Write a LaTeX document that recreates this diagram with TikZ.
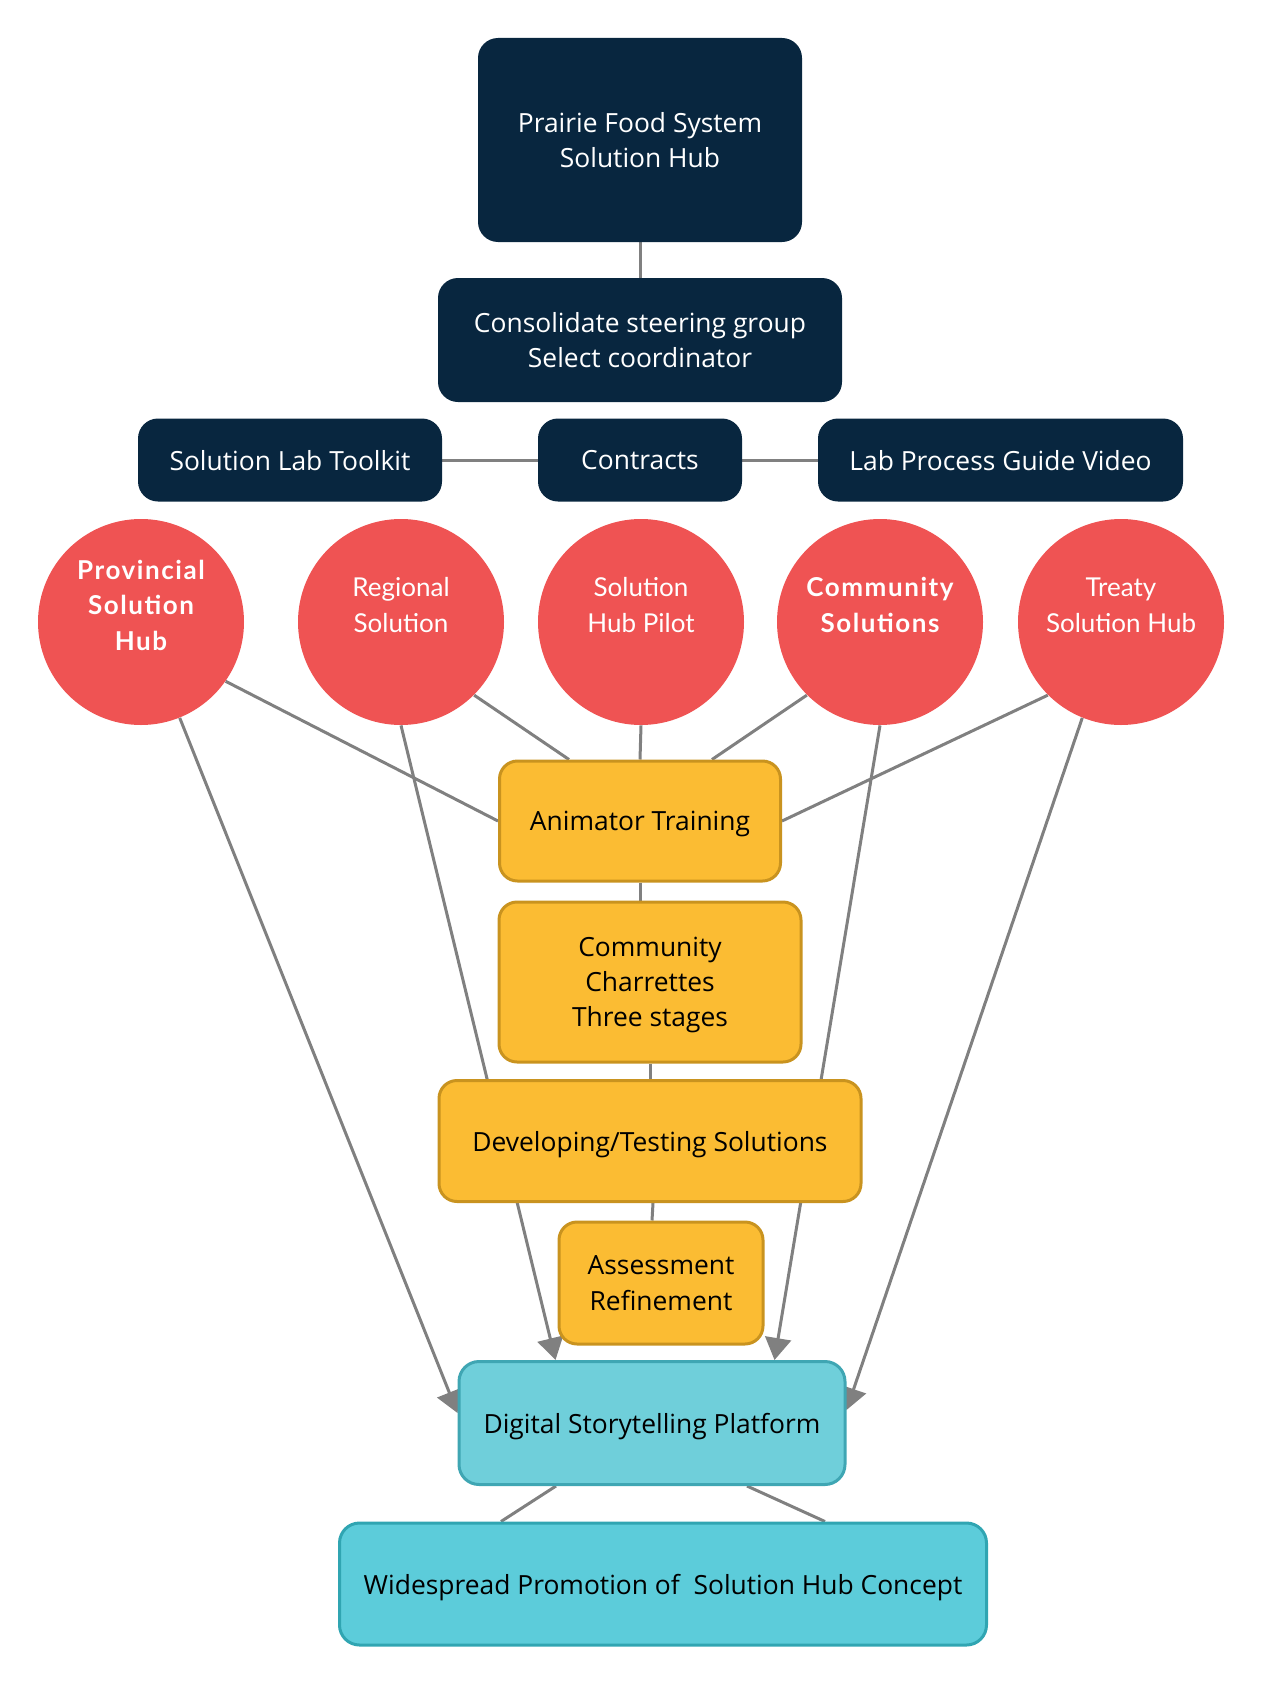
\documentclass[tikz,border=0pt]{standalone}
\usepackage{fontspec}
\setmainfont{Open Sans}
\newfontfamily\latofont{Lato}
\newcommand{\hubbold}{\bfseries\addfontfeatures{LetterSpace=6}}
\usetikzlibrary{arrows.meta,calc,backgrounds}
\definecolor{navy}{HTML}{08263F}
\definecolor{redc}{HTML}{EF5353}
\definecolor{amber}{HTML}{FBBC33}
\definecolor{amberline}{HTML}{C9931F}
\definecolor{tealA}{HTML}{6FCFDA}
\definecolor{tealAline}{HTML}{3FA6B3}
\definecolor{tealB}{HTML}{5CCCDA}
\definecolor{tealBline}{HTML}{30A5B2}
\definecolor{linegray}{HTML}{808080}
\begin{document}
\begin{tikzpicture}[x=0.5pt,y=-0.5pt,
  navybox/.style={fill=navy, text=white, rounded corners=10pt, align=center,
    inner sep=0pt, text depth=-4pt, font=\fontsize{13.2}{17.6}\selectfont},
  hubcirc/.style={circle, fill=redc, text=white, minimum size=103pt, inner sep=0pt,
    align=center, text depth=17pt, font=\latofont\fontsize{13}{17.8}\selectfont},
  ambbox/.style={fill=amber, draw=amberline, line width=1.5pt, rounded corners=9pt,
    align=center, inner sep=0pt, text depth=-4pt, font=\fontsize{13.2}{17.6}\selectfont},
  tealbox/.style={draw, line width=1.5pt, rounded corners=10pt, align=center,
    inner sep=0pt, text depth=-4pt, font=\fontsize{13.2}{17.6}\selectfont},
  link/.style={draw=linegray, line width=1.5pt},
  feed/.style={link, -{Triangle[length=11pt,width=13pt]}}]
\useasboundingbox (0,0) rectangle (1262,1686);
% Steering boxes
\node[navybox, minimum width=162pt, minimum height=102pt] (hub) at (640,140) {Prairie Food System\\Solution Hub};
\node[navybox, minimum width=202pt, minimum height=62pt] (steer) at (640,340) {Consolidate steering group\\Select coordinator};
\node[navybox, minimum width=152pt, minimum height=41.5pt] (toolkit) at (290,460) {Solution Lab Toolkit};
\node[navybox, minimum width=102pt, minimum height=41.5pt] (contracts) at (640,460) {Contracts};
\node[navybox, minimum width=182.5pt, minimum height=41.5pt] (video) at (1000.5,460) {Lab Process Guide Video};
% Solution hubs
\node[hubcirc] (prov) at (141,622) {\hubbold Provincial\\\hubbold Solution\\\hubbold Hub};
\node[hubcirc] (reg) at (401,622) {Regional\\Solution};
\node[hubcirc] (pilot) at (641,622) {Solution\\Hub Pilot};
\node[hubcirc] (comm) at (880,622) {\hubbold Community\\\hubbold Solutions};
\node[hubcirc] (treaty) at (1121,622) {Treaty\\Solution Hub};
% Process steps
\node[ambbox, minimum width=140.5pt, minimum height=60pt] (anim) at (640,821) {Animator Training};
\node[ambbox, minimum width=151pt, minimum height=80pt] (charr) at (650,982) {Community\\Charrettes\\Three stages};
\node[ambbox, minimum width=211pt, minimum height=60.5pt] (devel) at (650,1141) {Developing/Testing Solutions};
\node[ambbox, minimum width=102pt, minimum height=61pt] (assess) at (661,1283) {Assessment\\Refinement};
% Outputs
\node[tealbox, fill=tealA, draw=tealAline, minimum width=193pt, minimum height=61.5pt] (digital) at (652,1423) {Digital Storytelling Platform};
\node[tealbox, fill=tealB, draw=tealBline, minimum width=323.5pt, minimum height=61pt] (promo) at (663,1584) {Widespread Promotion of \ Solution Hub Concept};
% Connectors
\begin{scope}[on background layer]
\draw[link] (hub.south) -- (steer.north);
\draw[link] (toolkit.east) -- (contracts.west);
\draw[link] (contracts.east) -- (video.west);
\draw[link] (prov.-35) -- (anim.west);
\draw[link] (reg.-45) -- ($(anim.north west)+(71,0)$);
\draw[link] (pilot.south) -- (anim.north);
\draw[link] (comm.-135) -- ($(anim.north east)+(-70,0)$);
\draw[link] (treaty.-135) -- (anim.east);
\draw[link] (anim.south) -- (anim.south |- charr.north);
\draw[link] (charr.south) -- (devel.north);
\draw[link] ($(devel.south)+(3,0)$) -- ($(devel.south |- assess.north)+(2,0)$);
\draw[feed] (prov.-68) -- ($(digital.west)+(0,-10)$);
\draw[feed] (reg.south) -- ($(digital.north west)+(98,0)$);
\draw[feed] (comm.south) -- ($(digital.north east)+(-72,0)$);
\draw[feed] (treaty.-112) -- ($(digital.east)+(0,-13)$);
\draw[link] ($(digital.south)+(-96,0)$) -- ($(promo.north)+(-162,0)$);
\draw[link] ($(digital.south)+(95,0)$) -- ($(promo.north)+(162,0)$);
\end{scope}
\end{tikzpicture}
\end{document}
